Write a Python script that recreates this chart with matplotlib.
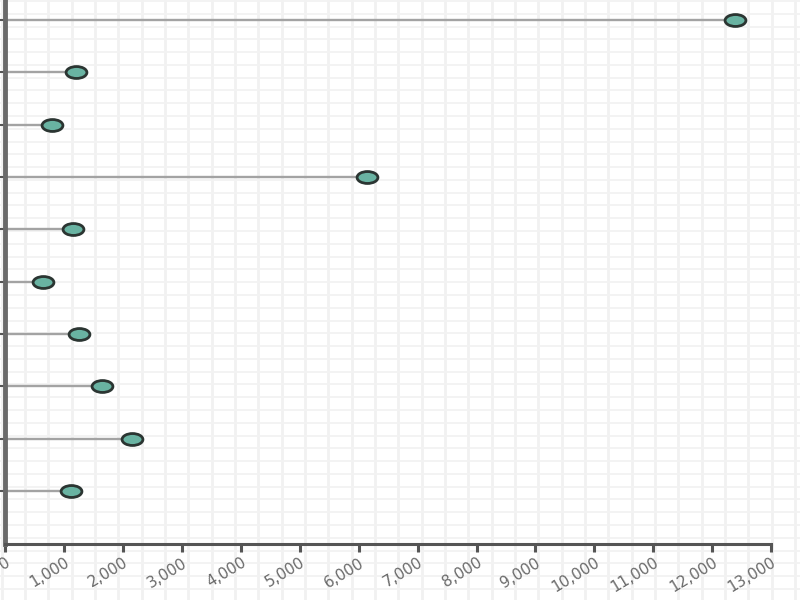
import numpy as np
import matplotlib
matplotlib.use("Agg")
import matplotlib.pyplot as plt
from matplotlib.path import Path

# ---- data ----
values = [12390, 1199, 796, 6135, 1153, 644, 1255, 1635, 2145, 1114]
x_ticks = list(range(0, 13001, 1000))
x_tick_labels = [f"{v:,}" for v in x_ticks]

W, H = 800, 600
fig = plt.figure(figsize=(8, 6), dpi=100)
fig.patch.set_facecolor("white")

# background grid paper
bg = fig.add_axes([0, 0, 1, 1], zorder=0)
bg.set_xlim(0, W)
bg.set_ylim(H, 0)
bg.axis("off")
for gx in np.arange(1.67, W, 23.33):
    bg.axvline(gx, color="#f1f1f1", lw=2.0)
for gy in np.arange(1.0, H, 12.78):
    bg.axhline(gy, color="#f3f3f3", lw=1.4)

left_px, right_px, bottom_px, top_px = 5.4, 771, 544, 0
ax = fig.add_axes([left_px / W, 1 - bottom_px / H,
                   (right_px - left_px) / W, (bottom_px - top_px) / H], zorder=1)
ax.patch.set_alpha(0)

ypos = np.arange(len(values))
ax.hlines(ypos, 0, values, color="#a3a3a3", lw=1.7, zorder=2)

uc = Path.unit_circle()
ellipse = Path(uc.vertices * np.array([1.75, 1.0]), uc.codes)
ax.plot(values, ypos, ls="none", marker=ellipse, ms=15.0,
        mfc="#69b3a2", mec="#2b3532", mew=2.0, zorder=3)

ax.set_xlim(0, 13000)
ax.set_ylim(10.01, -0.382)

ax.set_xticks(x_ticks)
ax.set_xticklabels(x_tick_labels, rotation=31, ha="right", va="top",
                   rotation_mode="anchor", fontsize=11, color="#6a6a6a")
ax.set_yticks(ypos)
ax.set_yticklabels([""] * len(ypos))

ax.tick_params(axis="x", direction="out", length=6, width=2.2, color="#555555", pad=2)
ax.tick_params(axis="y", direction="out", length=5, width=1.5, color="#555555")

for s in ["top", "right"]:
    ax.spines[s].set_visible(False)
ax.spines["left"].set_linewidth(3.5)
ax.spines["left"].set_color("#6a6a6a")
ax.spines["bottom"].set_linewidth(2.2)
ax.spines["bottom"].set_color("#555555")

fig.savefig("out.png", dpi=100)
